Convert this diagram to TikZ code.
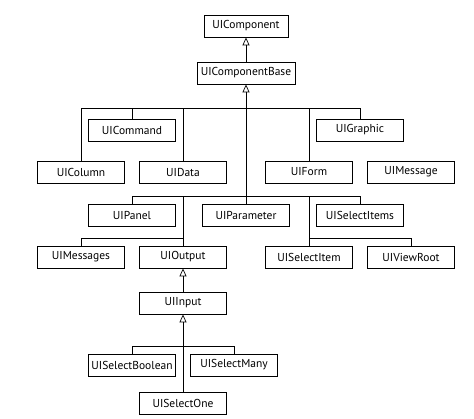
\documentclass[tikz,border=0pt]{standalone}
\usepackage{fontspec}
\setmainfont{PT Sans}
\usetikzlibrary{arrows.meta}

\begin{document}
\begin{tikzpicture}[x=1pt,y=-1pt,
    cls/.style={draw, line width=0.8pt, minimum width=87pt, minimum height=22pt,
      inner sep=0pt, font=\fontsize{11.5}{13}\selectfont},
    inherit/.style={-{Triangle[open,length=8pt,width=7pt,line width=0.7pt]}, line width=1pt},
    link/.style={line width=0.8pt}]

  % Parameters
  \def\busA{108}   % bus under UIComponentBase
  \def\busB{196}   % second row bus
  \def\busC{238}   % third row bus
  \def\busD{346}   % bus under UIInput

  \useasboundingbox (0,0) rectangle (474,418);

  % Classes, top to bottom
  \node[cls, minimum width=84pt] (comp) at (246,26) {UIComponent};
  \node[cls, minimum width=98pt] (cbase) at (246,73) {UIComponentBase};

  \node[cls] (command) at (132,130) {UICommand};
  \node[cls] (graphic) at (360,130) {UIGraphic};

  \node[cls] (column)  at (81,172)  {UIColumn};
  \node[cls] (data)    at (183,172) {UIData};
  \node[cls] (form)    at (309,172) {UIForm};
  \node[cls] (message) at (411,172) {UIMessage};

  \node[cls] (panel)    at (132,215) {UIPanel};
  \node[cls] (param)    at (246,215) {UIParameter};
  \node[cls] (selitems) at (360,215) {UISelectItems};

  \node[cls] (messages) at (81,257)  {UIMessages};
  \node[cls] (output)   at (183,257) {UIOutput};
  \node[cls] (selitem)  at (309,257) {UISelectItem};
  \node[cls] (viewroot) at (411,257) {UIViewRoot};

  \node[cls] (input) at (183,303) {UIInput};

  \node[cls] (selbool) at (132,365) {UISelectBoolean};
  \node[cls] (selmany) at (234,365) {UISelectMany};
  \node[cls] (selone)  at (183,403) {UISelectOne};

  % Bus levels
  \coordinate (busA) at (0,\busA);
  \coordinate (busB) at (0,\busB);
  \coordinate (busC) at (0,\busC);
  \coordinate (busD) at (0,\busD);

  % Generalisations
  \draw[inherit] (cbase) -- (comp);
  \draw[inherit] (param) -- (cbase);
  \draw[inherit] (input) -- (output);
  \draw[inherit] (selone) -- (input);

  % First bus
  \draw[link] (column.north) |- (graphic |- busA) -- (graphic.north);
  \draw[link] (command.north) -- (command |- busA);
  \draw[link] (data.north) -- (data |- busA);
  \draw[link] (form.north) -- (form |- busA);

  % Second bus
  \draw[link] (panel.north) |- (selitems |- busB) -- (selitems.north);
  \draw[link] (output.north) -- (output |- busB);
  \draw[link] (selitem.north) -- (selitem |- busB);

  % Third bus
  \draw[link] (messages.north) |- (output |- busC);
  \draw[link] (viewroot.north) |- (selitem |- busC);

  % Under UIInput
  \draw[link] (selbool.north) |- (selmany |- busD) -- (selmany.north);

\end{tikzpicture}
\end{document}
